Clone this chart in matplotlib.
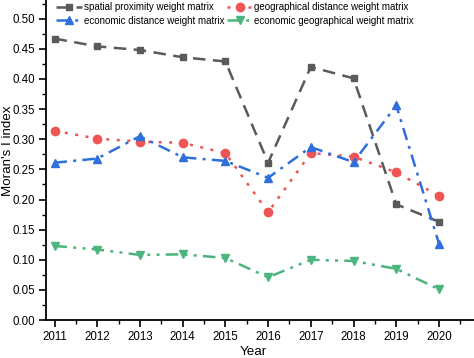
import matplotlib
matplotlib.use('Agg')
import matplotlib.pyplot as plt
from matplotlib.ticker import MultipleLocator

years = [2011, 2012, 2013, 2014, 2015, 2016, 2017, 2018, 2019, 2020]
spatial = [0.467, 0.454, 0.448, 0.436, 0.429, 0.261, 0.420, 0.401, 0.192, 0.163]
geo_dist = [0.314, 0.301, 0.296, 0.294, 0.277, 0.179, 0.277, 0.271, 0.245, 0.206]
eco_dist = [0.261, 0.268, 0.305, 0.270, 0.264, 0.236, 0.287, 0.262, 0.356, 0.127]
eco_geo = [0.123, 0.117, 0.108, 0.109, 0.103, 0.071, 0.100, 0.098, 0.085, 0.051]

plt.rcParams['font.family'] = ['Liberation Sans', 'DejaVu Sans']

fig = plt.figure(figsize=(4.74, 3.58), dpi=100)
ax = fig.add_axes([0.097, 0.106, 0.903, 0.894])

l1, = ax.plot(years, spatial, color='#5a5a5a', marker='s', markersize=5, lw=1.8,
              dashes=(5, 3), label='spatial proximity weight matrix')
l2, = ax.plot(years, geo_dist, color='#ef5555', marker='o', markersize=6, lw=1.8,
              dashes=(1.2, 3), label='geographical distance weight matrix')
l3, = ax.plot(years, eco_dist, color='#2f6fdc', marker='^', markersize=6, lw=1.8,
              dashes=(5, 2.5, 1.2, 2.5), label='economic distance weight matrix')
l4, = ax.plot(years, eco_geo, color='#4db47e', marker='v', markersize=6, lw=1.8,
              dashes=(5, 2.5, 1.2, 2.5, 1.2, 2.5), label='economic geographical weight matrix')

ax.set_xlim(2010.8, 2020.82)
ax.set_ylim(0, 0.531)
ax.xaxis.set_major_locator(MultipleLocator(1))
ax.xaxis.set_minor_locator(MultipleLocator(0.5))
ax.yaxis.set_major_locator(MultipleLocator(0.05))
ax.yaxis.set_minor_locator(MultipleLocator(0.025))
ax.yaxis.set_major_formatter(plt.FuncFormatter(lambda v, p: '%.2f' % v))
ax.tick_params(which='major', direction='out', length=5, width=1.2, labelsize=8.3, pad=3)
ax.tick_params(which='minor', direction='out', length=3, width=1.0)

for s in ['top', 'right']:
    ax.spines[s].set_visible(False)
for s in ['left', 'bottom']:
    ax.spines[s].set_linewidth(1.3)

ax.set_xlabel('Year', fontsize=9.6)
ax.set_ylabel("Moran's I index", fontsize=9.6)
ax.xaxis.set_label_coords(0.484, -0.082)
ax.yaxis.set_label_coords(-0.074, 0.53)

ax.legend([l1, l3, l2, l4], [l.get_label() for l in [l1, l3, l2, l4]],
          ncol=2, loc='upper left', bbox_to_anchor=(0.015, 1.005), frameon=False,
          fontsize=7.0, handlelength=2.6, columnspacing=0.3, handletextpad=0.2,
          labelspacing=0.35, borderaxespad=0)

fig.savefig('out.png', dpi=100)
